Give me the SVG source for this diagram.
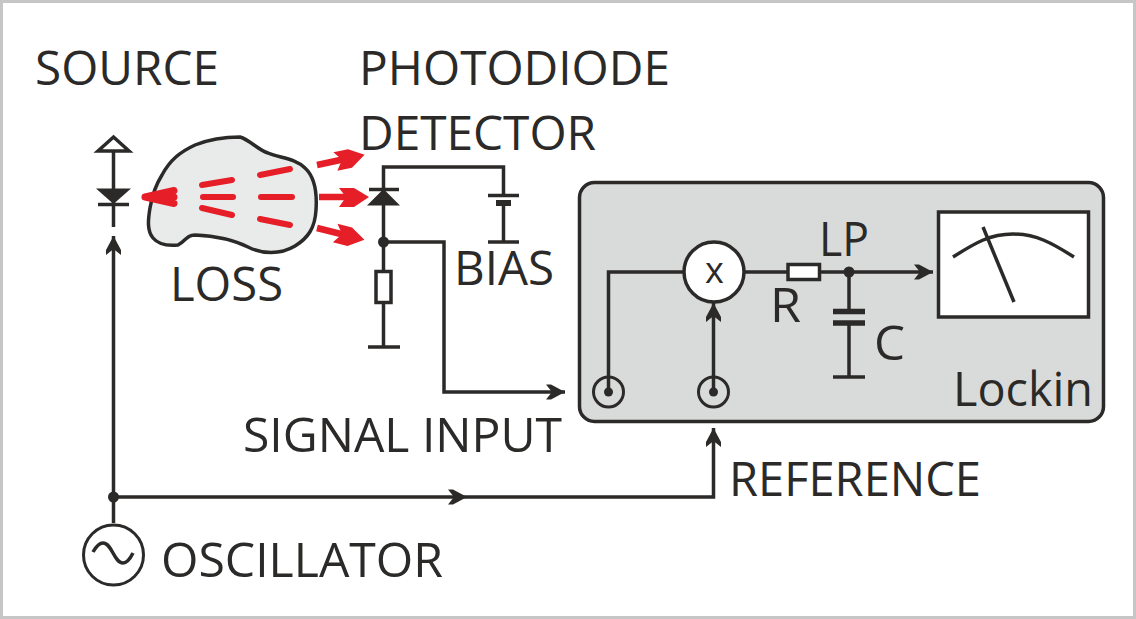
<svg xmlns="http://www.w3.org/2000/svg" width="1136" height="619" viewBox="0 0 1136 619">
<style>
text{font-family:"Open Sans","Noto Sans","Liberation Sans",sans-serif;font-size:48px;fill:#2b2a29}
.w{fill:none;stroke:#2b2a29;stroke-width:3.500;stroke-linejoin:miter}
.t{fill:none;stroke:#2b2a29;stroke-width:3.500}
.k{fill:#2b2a29;stroke:none}
.o{fill:#fff;stroke:#2b2a29;stroke-width:3.500}
.r{fill:none;stroke:#e61e28;stroke-width:6;stroke-linecap:round}
.ra{fill:none;stroke:#e61e28;stroke-width:6.500;marker-end:url(#red)}
</style>
<defs>
<marker id="blk" markerUnits="userSpaceOnUse" markerWidth="22" markerHeight="20" refX="19" refY="7.500" orient="auto" overflow="visible">
<path d="M0 0L5 0L19 7.500L5 15L0 15L6 7.500Z" fill="#2b2a29"/>
</marker>
<marker id="red" markerUnits="userSpaceOnUse" markerWidth="30" markerHeight="24" refX="6" refY="10" orient="auto" overflow="visible">
<path d="M0 0L15 0L30 9L15 19L0 19L7 9Z" transform="translate(-4 1)" fill="#e61e28"/>
</marker>
</defs>
<rect x="1.500" y="1.500" width="1133" height="616" fill="#fff" stroke="#c6c6c6" stroke-width="3"/>

<g id="lockin">
<rect x="579.500" y="182.500" width="524" height="239" rx="15" fill="#d9dbda" stroke="#2b2a29" stroke-width="3.500"/>
<text x="953" y="406" textLength="140" lengthAdjust="spacingAndGlyphs">Lockin</text>
</g>

<g id="connectors">
<path class="w" d="M113.500 151V227"/>
<path class="w" d="M113.500 523V497"/>
<path class="w" d="M113.500 497V236" marker-end="url(#blk)"/>
<path class="w" d="M113.500 497H467" marker-end="url(#blk)"/>
<path class="w" d="M467 497H713.500V428" marker-end="url(#blk)"/>
<path class="w" d="M383.500 189V167H503.500V195"/>
<path class="w" d="M503.500 203V242"/>
<path class="w" d="M383.500 205V271"/>
<path class="w" d="M383.500 303V347"/>
<path class="w" d="M383.500 242H444V392H565" marker-end="url(#blk)"/>
<path class="w" d="M608.500 392V272H684"/>
<path class="w" d="M713.500 392V303" marker-end="url(#blk)"/>
<path class="w" d="M744 272H788"/>
<path class="w" d="M820 272H849"/>
<path class="w" d="M849 272H933" marker-end="url(#blk)"/>
<path class="w" d="M849 272V311"/>
<path class="w" d="M849 323V377"/>
</g>

<g id="loss">
<path d="M240 137C250 140 258 150 268 153C280 158 295 158 305 168C316 178 317 195 316 210C315 228 308 238 295 246C280 255 262 254 248 247C232 239 215 236 195 235C186 235 186 241 178 245C168 246 158 244 153 238C147 231 148 220 150 208C152 196 155 186 162 175C170 160 180 152 195 145C210 139 225 137 240 137Z" fill="#e9ebeb" stroke="#2b2a29" stroke-width="3.500"/>
<text x="170" y="301" textLength="113" lengthAdjust="spacingAndGlyphs">LOSS</text>
</g>

<g id="rays">
<path class="r" style="stroke-width:7" d="M145 197L174 190.500M145 197H174M145 197L174 203.500"/>
<path class="r" d="M202 185L232 180M203 197H233M202 208L232 215M260 175L290 169M261 197H292M260 219L290 225"/>
<path class="ra" d="M317 165L345 159"/>
<path class="ra" d="M319 197H349"/>
<path class="ra" d="M317 228L345 235"/>
</g>

<g id="source">
<path class="o" d="M113.500 137L129 151H98Z"/>
<path class="k" d="M96 188.500H131L113.500 204Z"/>
<path class="t" d="M98 204.500H129"/>
<text x="35" y="85" textLength="184" lengthAdjust="spacingAndGlyphs">SOURCE</text>
</g>

<g id="detector">
<path class="k" d="M383.500 189L400 205.500H367Z"/>
<path class="t" d="M369 189.500H399"/>
<text x="359" y="85" textLength="311" lengthAdjust="spacingAndGlyphs">PHOTODIODE</text>
<text x="359" y="150" textLength="237" lengthAdjust="spacingAndGlyphs">DETECTOR</text>
</g>

<g id="bias">
<path class="t" d="M488 195.500H519"/>
<path class="k" d="M496 200H511V206H496Z"/>
<path class="t" d="M488 242H519"/>
<text x="454" y="285" textLength="100" lengthAdjust="spacingAndGlyphs">BIAS</text>
</g>

<g id="load">
<circle class="k" cx="383.500" cy="242" r="5.500"/>
<rect class="o" x="376" y="271.500" width="15" height="31"/>
<path class="t" d="M368 347H400"/>
</g>

<g id="signal-input">
<text x="243" y="452" textLength="319" lengthAdjust="spacingAndGlyphs">SIGNAL INPUT</text>
<circle cx="608.500" cy="392" r="15" fill="none" stroke="#2b2a29" stroke-width="3"/>
<circle class="k" cx="608.500" cy="392" r="4.500"/>
</g>

<g id="reference">
<text x="729" y="496" textLength="252" lengthAdjust="spacingAndGlyphs">REFERENCE</text>
<circle cx="713.500" cy="392" r="15" fill="none" stroke="#2b2a29" stroke-width="3"/>
<circle class="k" cx="713.500" cy="392" r="4.500"/>
</g>

<g id="mixer">
<circle class="o" cx="714" cy="272" r="30"/>
<text x="714.500" y="283" text-anchor="middle" style="font-size:36px">x</text>
</g>

<g id="lp">
<rect class="o" x="788" y="264.500" width="31.500" height="15"/>
<circle class="k" cx="849" cy="272" r="5.500"/>
<path d="M833 311.500H865M833 323H865" fill="none" stroke="#2b2a29" stroke-width="5.500"/>
<path class="t" d="M833 377H865"/>
<text x="819" y="256" textLength="50" lengthAdjust="spacingAndGlyphs">LP</text>
<text x="770" y="322" textLength="31" lengthAdjust="spacingAndGlyphs">R</text>
<text x="874" y="360" textLength="31" lengthAdjust="spacingAndGlyphs">C</text>
</g>

<g id="meter">
<rect class="o" x="938.500" y="212" width="150" height="105"/>
<path class="w" d="M953 257C975 243 990 234 1013 234C1036 234 1052 243 1074 257"/>
<path class="w" d="M983 227L1014 302"/>
</g>

<g id="oscillator">
<circle cx="113.500" cy="555" r="30" fill="#fff" stroke="#2b2a29" stroke-width="3"/>
<path class="w" d="M93 552C97 545 100 543 103 543C112 543 114 563 123 563C127 563 130 559 133 553"/>
<circle class="k" cx="113.500" cy="497" r="5.500"/>
<text x="161" y="577" textLength="282" lengthAdjust="spacingAndGlyphs">OSCILLATOR</text>
</g>
</svg>
